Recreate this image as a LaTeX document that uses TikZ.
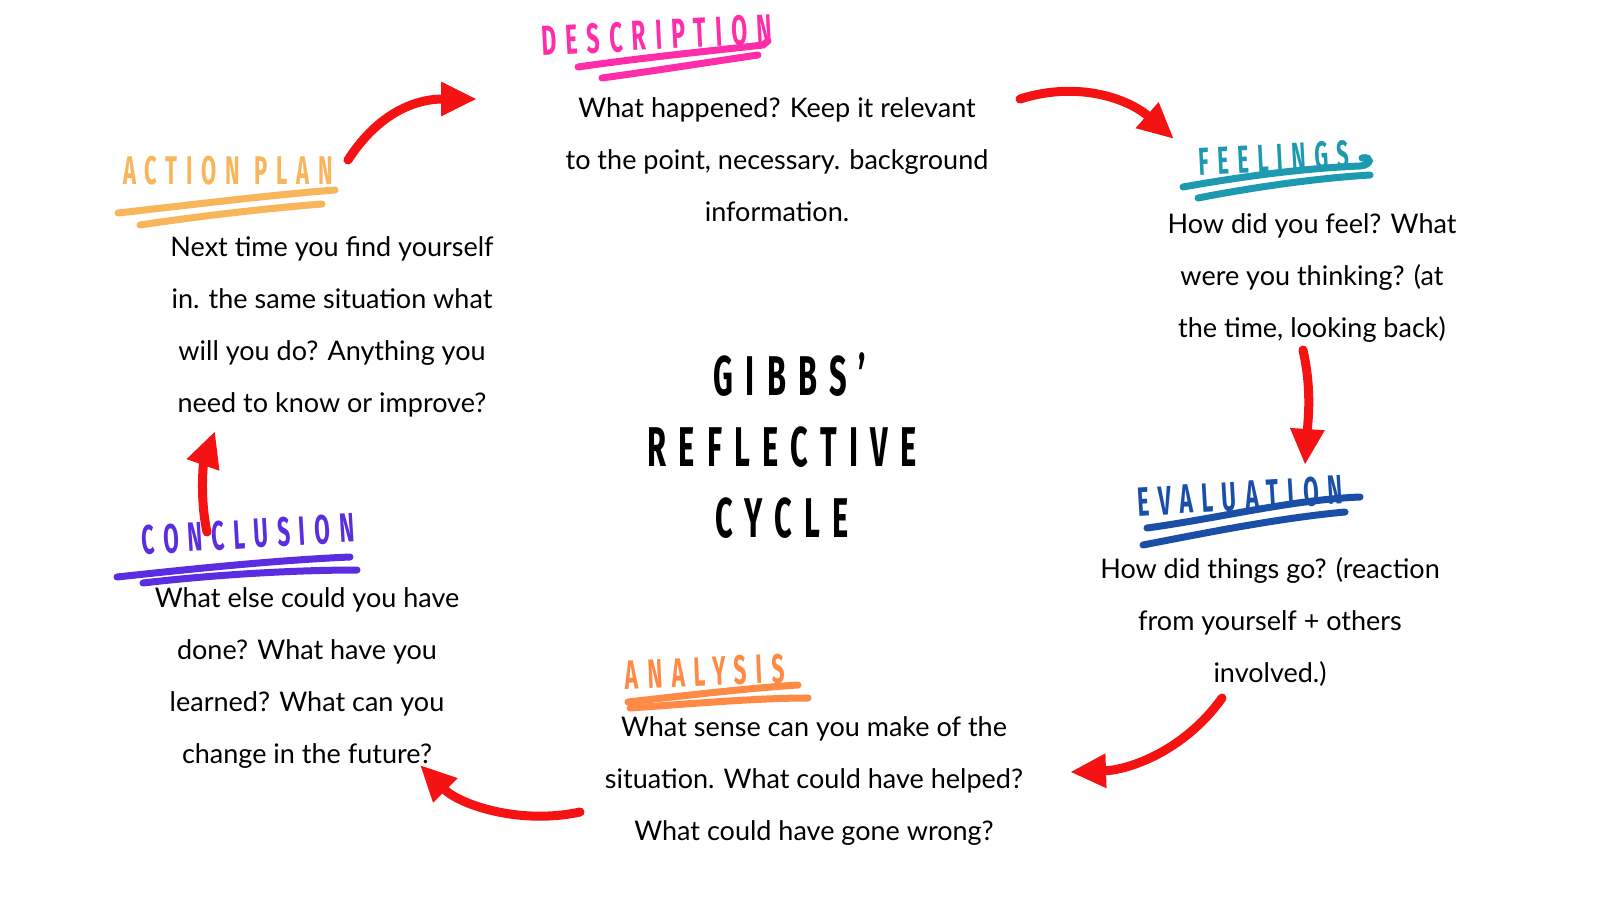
\documentclass[tikz,border=0pt]{standalone}
\usepackage{fontspec}
\setmainfont{Lato}
\newfontfamily\headfont[LetterSpace=40]{Fira Sans}
\usetikzlibrary{arrows.meta}
\definecolor{cdesc}{HTML}{FF2DAA}
\definecolor{cfeel}{HTML}{1E9AB0}
\definecolor{ceval}{HTML}{1A4FA8}
\definecolor{canal}{HTML}{FF8A45}
\definecolor{cconc}{HTML}{5A2EE0}
\definecolor{cact}{HTML}{F8B55A}
\definecolor{carrow}{HTML}{F51212}
\newcommand\hd[2]{\scalebox{0.55}[1]{\headfont\bfseries\fontsize{#1}{#1}\selectfont #2}}
\begin{document}
\begin{tikzpicture}[x=0.5pt,y=-0.5pt,
  body/.style={font=\fontsize{13.5}{26}\selectfont, align=center, text=black, inner sep=0pt},
  head/.style={inner sep=0pt},
  ul/.style={line width=3.5pt, line cap=round},
  cyc/.style={carrow, line width=4.5pt, line cap=round, -{Triangle[length=18pt,width=16pt]}}]
\useasboundingbox (0,0) rectangle (1600,900);
\fill[white] (0,0) rectangle (1600,900);

% headings
\node[head, text=cdesc, rotate=3] (hdesc) at (657,35) {\hd{21}{DESCRIPTION}};
\node[head, text=cfeel, rotate=3] (hfeel) at (1274,158) {\hd{19.5}{FEELINGS}};
\node[head, text=ceval, rotate=3.4] (heval) at (1240,496) {\hd{20.5}{EVALUATION}};
\node[head, text=canal, rotate=2.5] (hanal) at (705,672) {\hd{20.5}{ANALYSIS}};
\node[head, text=cconc, rotate=3.3] (hconc) at (248,534) {\hd{20.5}{CONCLUSION}};
\node[head, text=cact] (hact) at (228,171) {\hd{20}{ACTION~PLAN}};

% underlines
\draw[ul, cdesc] (578,67) .. controls (640,58) and (700,52) .. (763,45) -- (768,41);
\draw[ul, cdesc] (602,78) .. controls (660,70) and (710,62) .. (758,55);
\draw[ul, cfeel] (1183,187) .. controls (1250,175) and (1310,168) .. (1360,166) .. controls (1372,165) and (1372,156) .. (1362,158);
\draw[ul, cfeel] (1198,198) .. controls (1260,186) and (1320,178) .. (1370,175);
\draw[ul, ceval] (1147,528) .. controls (1220,518) and (1290,500) .. (1360,497);
\draw[ul, ceval] (1143,545) .. controls (1210,532) and (1280,518) .. (1345,512);
\draw[ul, canal] (628,702) .. controls (690,695) and (750,688) .. (798,685);
\draw[ul, canal] (630,708) .. controls (700,703) and (760,698) .. (808,698);
\draw[ul, cconc] (117,577) .. controls (200,568) and (280,560) .. (350,557);
\draw[ul, cconc] (143,583) .. controls (220,574) and (300,570) .. (357,570);
\draw[ul, cact] (118,213) .. controls (190,205) and (270,195) .. (335,190);
\draw[ul, cact] (140,225) .. controls (200,216) and (270,208) .. (322,204);

% body texts
\node[body] (tdesc) at (777,160) {What happened? Keep it relevant\\to the point, necessary. background\\information.};
\node[body] (tfeel) at (1312,278) {How did you feel? What\\were you thinking? (at\\the time, looking back)};
\node[body] (teval) at (1270,622) {How did things go? (reaction\\from yourself + others\\involved.)};
\node[body] (tanal) at (814,781) {What sense can you make of the\\situation. What could have helped?\\What could have gone wrong?};
\node[body] (tconc) at (307,678) {What else could you have\\done? What have you\\learned? What can you\\change in the future?};
\node[body] (tact) at (332,327) {Next time you find yourself\\in. the same situation what\\will you do? Anything you\\need to know or improve?};

% title
\node[head] (t1) at (790,375) {\hd{28}{GIBBS’}};
\node[head] (t2) at (782,447) {\hd{28}{REFLECTIVE}};
\node[head] (t3) at (782,518) {\hd{28}{CYCLE}};

% arrow end points
\coordinate (a1s) at (348,160); \coordinate (a1e) at (477,99);
\coordinate (a2s) at (1020,99); \coordinate (a2e) at (1174,139);
\coordinate (a3s) at (1303,350); \coordinate (a3e) at (1305,465);
\coordinate (a4s) at (1222,698); \coordinate (a4e) at (1070,772);
\coordinate (a5s) at (580,812); \coordinate (a5e) at (420,765);
\coordinate (a6s) at (207,532); \coordinate (a6e) at (215,431);

\draw[cyc] (a1s) .. controls (375,118) and (410,99) .. (a1e);
\draw[cyc] (a2s) .. controls (1080,80) and (1130,100) .. (a2e);
\draw[cyc] (a3s) .. controls (1312,390) and (1308,420) .. (a3e);
\draw[cyc] (a4s) .. controls (1185,750) and (1130,770) .. (a4e);
\draw[cyc] (a5s) .. controls (520,825) and (460,805) .. (a5e);
\draw[cyc] (a6s) .. controls (200,500) and (203,465) .. (a6e);
\end{tikzpicture}
\end{document}
